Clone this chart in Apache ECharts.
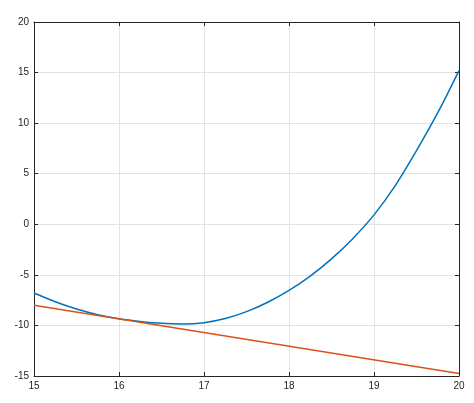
<!DOCTYPE html>
<html>
<head>
<meta charset="utf-8">
<script src="https://cdn.jsdelivr.net/npm/echarts@6/dist/echarts.min.js"></script>
<style>
  html, body { margin: 0; padding: 0; background: #fff; }
  #chart { width: 474px; height: 403px; }
</style>
</head>
<body>
<div id="chart"></div>
<script>
// values
const curveX = [15, 15.25, 15.5, 15.75, 16, 16.25, 16.5, 16.75, 17, 17.25, 17.5,
    17.75, 18, 18.25, 18.5, 18.75, 19, 19.25, 19.5, 19.75, 20]
const curveY = [-6.8, -7.66, -8.38, -8.94, -9.33, -9.6, -9.79, -9.86, -9.73, -9.32, -8.64,
    -7.71, -6.54, -5.12, -3.42, -1.42, 0.93, 3.83, 7.28, 11.03, 15.2]
const lineX = [15, 20]
const lineY = [-8.0, -14.75]

const myChart = echarts.init(document.getElementById('chart'))

const axisColor = '#262626'
const labelStyle = {
    fontFamily: 'Liberation Sans',
    fontSize: 10,
    color: '#262626'
}

const boxAxis = function (position, showLabel) {
    return {
        position: position,
        axisLine: { show: true, onZero: false, lineStyle: { color: axisColor, width: 1 } },
        axisTick: { show: true, inside: true, length: 4, lineStyle: { color: axisColor } },
        axisLabel: Object.assign({ show: showLabel, margin: 5 }, labelStyle),
        splitLine: { show: showLabel, lineStyle: { color: '#e3e3e3', width: 1 } }
    }
}

myChart.setOption({
    animation: false,
    grid: {
        top: 22,
        left: 34,
        right: 15,
        bottom: 27,
        containLabel: false
    },
    xAxis: [
        Object.assign({ type: 'value', min: 15, max: 20, interval: 1 }, boxAxis('bottom', true)),
        Object.assign({ type: 'value', min: 15, max: 20, interval: 1 }, boxAxis('top', false))
    ],
    yAxis: [
        Object.assign({ type: 'value', min: -15, max: 20, interval: 5 }, boxAxis('left', true)),
        Object.assign({ type: 'value', min: -15, max: 20, interval: 5 }, boxAxis('right', false))
    ],
    series: [
        {
            type: 'line',
            smooth: 0.3,
            showSymbol: false,
            data: curveX.map((x, i) => [x, curveY[i]]),
            lineStyle: { width: 1.5, color: '#0072bd' }
        },
        {
            type: 'line',
            showSymbol: false,
            data: lineX.map((x, i) => [x, lineY[i]]),
            lineStyle: { width: 1.5, color: '#d95319' }
        }
    ]
})
</script>
</body>
</html>
